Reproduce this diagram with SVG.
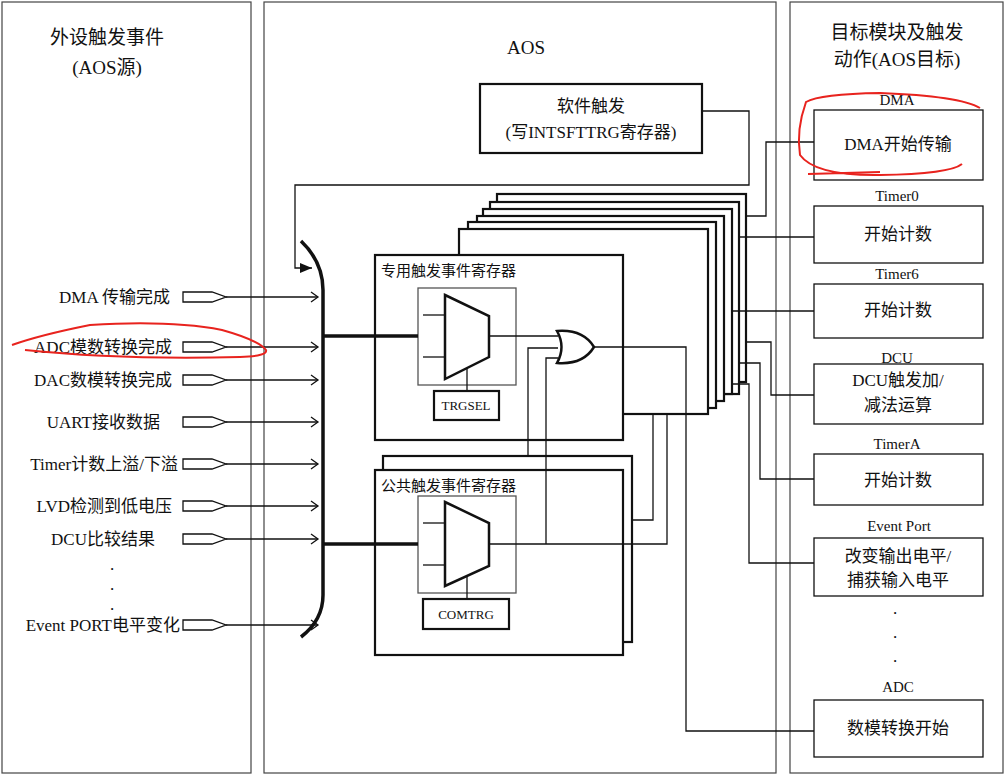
<svg xmlns="http://www.w3.org/2000/svg" width="1006" height="779" viewBox="0 0 1006 779">
<defs>
<style>
text{font-family:"Liberation Serif","Noto Sans CJK SC",serif;font-size:17px;fill:#111}
.t{font-size:19px}
.m{text-anchor:middle}
.e{text-anchor:end}
.s{font-size:13px}
.l{font-size:15px}
.p{fill:none;stroke:#444;stroke-width:1.2}
.b{fill:#fff;stroke:#111;stroke-width:2.2}
.n{fill:#fff;stroke:#111;stroke-width:1.3}
.w{fill:none;stroke:#111;stroke-width:1.3}
.k{fill:none;stroke:#111;stroke-width:3.5}
.r{fill:none;stroke:#e8231e;stroke-width:2}
</style>
<marker id="oa" markerWidth="12" markerHeight="12" refX="10" refY="6" orient="auto" markerUnits="userSpaceOnUse"><path d="M3,1 L10,6 L3,11" fill="none" stroke="#111" stroke-width="1.3"/></marker>
<marker id="fa" markerWidth="14" markerHeight="12" refX="12" refY="6" orient="auto" markerUnits="userSpaceOnUse"><path d="M0,1 L12,6 L0,11 Z" fill="#111"/></marker>
</defs>
<rect width="1006" height="779" fill="#fff"/>
<g id="panels">
<rect class="p" x="2" y="2" width="249" height="771"/>
<rect class="p" x="264" y="2" width="512" height="771"/>
<rect class="p" x="790" y="2" width="213" height="771"/>
<text class="t m" x="107" y="44">外设触发事件</text>
<text class="t m" x="107" y="74">(AOS源)</text>
<text class="t m" x="526" y="54">AOS</text>
<text class="t m" x="897" y="39">目标模块及触发</text>
<text class="t m" x="897" y="66">动作(AOS目标)</text>
</g>
<g id="stack">
<rect class="b" x="497" y="194" width="249" height="188"/>
<rect class="b" x="490" y="202" width="249" height="192"/>
<rect class="b" x="483" y="209" width="249" height="185"/>
<rect class="b" x="477" y="216" width="247" height="185"/>
<rect class="b" x="468" y="222" width="248" height="186"/>
<rect class="b" x="459" y="229" width="249" height="185"/>
<rect class="b" x="383" y="456" width="249" height="186"/>
</g>
<g id="dedicated">
<rect class="b" x="375" y="255" width="248" height="185"/>
<text x="381" y="276" class="l">专用触发事件寄存器</text>
<rect class="n" x="418" y="288" width="98" height="97" style="stroke:#555"/>
<line class="w" x1="423" y1="315" x2="445" y2="315"/>
<line class="w" x1="423" y1="357" x2="445" y2="357"/>
<polygon points="445,295 489,316 489,357 445,379" fill="#fff" stroke="#111" stroke-width="2.5"/>
<line class="w" x1="467" y1="368" x2="467" y2="391"/>
<rect class="b" x="434" y="391" width="65" height="29"/>
<text class="s m" x="466" y="410">TRGSEL</text>
</g>
<g id="common">
<rect class="b" x="375" y="470" width="248" height="185"/>
<text x="381" y="491" class="l">公共触发事件寄存器</text>
<rect class="n" x="418" y="496" width="98" height="97" style="stroke:#555"/>
<line class="w" x1="423" y1="523" x2="445" y2="523"/>
<line class="w" x1="423" y1="565" x2="445" y2="565"/>
<polygon points="445,502 489,523 489,566 445,586" fill="#fff" stroke="#111" stroke-width="2.5"/>
<line class="w" x1="467" y1="576" x2="467" y2="599"/>
<rect class="b" x="423" y="599" width="86" height="30"/>
<text class="s m" x="466" y="619">COMTRG</text>
</g>
<g id="connectors">
<polyline class="w" points="702,111 749,111 749,185 295,185 295,268 312,268" marker-end="url(#fa)"/>
<polyline class="w" points="746,216 766,216 766,142 814,142"/>
<line class="w" x1="739" y1="237" x2="814" y2="237"/>
<line class="w" x1="732" y1="311" x2="814" y2="311"/>
<polyline class="w" points="746,342 771,342 771,395 814,395"/>
<polyline class="w" points="739,363 760,363 760,479 814,479"/>
<polyline class="w" points="732,384 749,384 749,563 814,563"/>
<polyline class="w" points="594,347 686,347 686,731 814,731"/>
<polyline class="w" points="632,520 653,520 653,414"/>
<polyline class="w" points="489,544 667,544 667,414"/>
<polyline class="w" points="558,348 528,348 528,456"/>
<polyline class="w" points="558,358 546,358 546,544"/>
<line class="w" x1="489" y1="336" x2="558" y2="336"/>
<line class="k" x1="323" y1="336" x2="418" y2="336"/>
<line class="k" x1="323" y1="544" x2="418" y2="544"/>
<line class="w" x1="226" y1="297" x2="318" y2="297" marker-end="url(#oa)"/>
<line class="w" x1="226" y1="347" x2="318" y2="347" marker-end="url(#oa)"/>
<line class="w" x1="226" y1="380" x2="318" y2="380" marker-end="url(#oa)"/>
<line class="w" x1="226" y1="422" x2="318" y2="422" marker-end="url(#oa)"/>
<line class="w" x1="226" y1="464" x2="318" y2="464" marker-end="url(#oa)"/>
<line class="w" x1="226" y1="506" x2="318" y2="506" marker-end="url(#oa)"/>
<line class="w" x1="226" y1="539" x2="318" y2="539" marker-end="url(#oa)"/>
<line class="w" x1="226" y1="625" x2="318" y2="625" marker-end="url(#oa)"/>
<path class="k" d="M301,241 Q323,262 323,290 L323,595 Q323,620 301,637"/>
</g>
<g id="or-gate">
<path d="M557,331 Q583,329 594,347 Q583,365 557,363 Q566,347 557,331 Z" fill="#fff" stroke="#111" stroke-width="2.5"/>
</g>
<g id="software">
<rect class="b" x="480" y="84" width="222" height="69"/>
<text class="m" x="591" y="112">软件触发</text>
<text class="m" x="591" y="138">(写INTSFTTRG寄存器)</text>
</g>
<g id="inputs">
<g id="in-dma"><text class="e" x="170" y="303">DMA 传输完成</text><polygon class="n" points="183,292 212,292 226,297 212,302 183,302"/></g>
<g id="in-adc"><text class="e" x="172" y="353">ADC模数转换完成</text><polygon class="n" points="183,342 212,342 226,347 212,352 183,352"/></g>
<g id="in-dac"><text class="e" x="172" y="386">DAC数模转换完成</text><polygon class="n" points="183,375 212,375 226,380 212,385 183,385"/></g>
<g id="in-uart"><text class="e" x="160" y="428">UART接收数据</text><polygon class="n" points="183,417 212,417 226,422 212,427 183,427"/></g>
<g id="in-timer"><text class="e" x="178" y="470">Timer计数上溢/下溢</text><polygon class="n" points="183,459 212,459 226,464 212,469 183,469"/></g>
<g id="in-lvd"><text class="e" x="172" y="512">LVD检测到低电压</text><polygon class="n" points="183,501 212,501 226,506 212,511 183,511"/></g>
<g id="in-dcu"><text class="e" x="155" y="545">DCU比较结果</text><polygon class="n" points="183,534 212,534 226,539 212,544 183,544"/></g>
<text class="m" x="112" y="570">.</text><text class="m" x="112" y="590">.</text><text class="m" x="112" y="610">.</text>
<g id="in-port"><text class="e" x="180" y="631">Event PORT电平变化</text><polygon class="n" points="183,620 212,620 226,625 212,630 183,630"/></g>
</g>
<g id="targets">
<g id="t-dma"><text class="m l" x="897" y="105">DMA</text><rect class="n" x="814" y="110" width="169" height="70"/><text class="m" x="898" y="150">DMA开始传输</text></g>
<g id="t-timer0"><text class="m l" x="897" y="201">Timer0</text><rect class="n" x="814" y="206" width="169" height="57"/><text class="m" x="898" y="240">开始计数</text></g>
<g id="t-timer6"><text class="m l" x="897" y="279">Timer6</text><rect class="n" x="814" y="284" width="169" height="54"/><text class="m" x="898" y="316">开始计数</text></g>
<g id="t-dcu"><text class="m l" x="897" y="363">DCU</text><rect class="n" x="814" y="364" width="169" height="60"/><text class="m" x="898" y="386">DCU触发加/</text><text class="m" x="898" y="411">减法运算</text></g>
<g id="t-timera"><text class="m l" x="897" y="449">TimerA</text><rect class="n" x="814" y="454" width="169" height="51"/><text class="m" x="898" y="486">开始计数</text></g>
<g id="t-port"><text class="m l" x="899" y="531">Event Port</text><rect class="n" x="814" y="538" width="169" height="58"/><text class="m" x="898" y="562">改变输出电平/</text><text class="m" x="898" y="586">捕获输入电平</text></g>
<text class="m" x="895" y="614">.</text><text class="m" x="895" y="638">.</text><text class="m" x="895" y="662">.</text>
<g id="t-adc"><text class="m l" x="898" y="692">ADC</text><rect class="n" x="814" y="700" width="169" height="57"/><text class="m" x="898" y="734">数模转换开始</text></g>
</g>
<g id="annotations">
<path class="r" d="M980,108 Q960,96 880,93 Q820,94 806,102 Q796,130 800,155 Q815,176 880,175 Q950,174 962,164 M808,174 L880,172"/>
<path class="r" d="M12,345 Q40,335 90,325 Q170,320 222,330 Q258,340 266,350 Q268,356 240,357 Q120,360 25,350"/>
</g>
</svg>
